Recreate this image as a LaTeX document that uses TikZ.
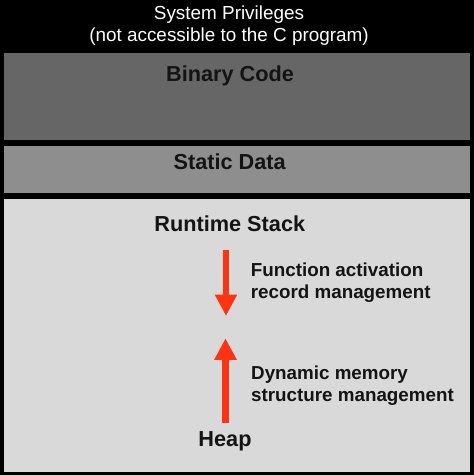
\documentclass[tikz,border=0pt]{standalone}
\usepackage{fontspec}
\setmainfont{Liberation Sans}
\usetikzlibrary{arrows.meta}
\definecolor{codegray}{HTML}{666666}
\definecolor{datagray}{HTML}{8E8E8E}
\definecolor{stackgray}{HTML}{D9D9D9}
\definecolor{inkdark}{HTML}{141414}
\definecolor{growred}{HTML}{FF3311}
\tikzset{
  title/.style={inner sep=0pt, text=inkdark, font=\fontsize{21.7}{24}\selectfont\bfseries},
  note/.style={inner sep=0pt, text=inkdark, align=left, font=\fontsize{18.8}{22}\selectfont\bfseries},
  growarrow/.style={draw=growred, line width=6.8pt, -{Triangle[length=21.5pt, width=21pt]}}
}
\begin{document}
\begin{tikzpicture}[x=1pt, y=-1pt]
    \useasboundingbox (0,0) rectangle (474,475);
    \fill[black] (0,0) rectangle (474,475);
    % the three regions
    \fill[codegray] (3.5,53) rectangle (470,140);
    \fill[datagray] (3.5,146) rectangle (470,193);
    \fill[stackgray] (3.5,199) rectangle (470,472);
    \node(priv)[inner sep=0pt, text=white, align=center, font=\fontsize{18.9}{22.5}\selectfont] at (229,25.5) {System Privileges\\(not accessible to the C program)};
    \node(code)[title, anchor=base] at (230,81) {Binary Code};
    \node(data)[title, anchor=base] at (229.7,169) {Static Data};
    \node(stack)[title, anchor=base] at (229.8,231.7) {Runtime Stack};
    \node(heap)[title, anchor=base] at (225,446) {Heap};
    \node(frames)[note, anchor=west] at (250.7,282.7) {Function activation\\record management};
    \node(dyn)[note, anchor=west] at (251,385.5) {Dynamic memory\\structure management};
    \coordinate(s1) at (226,250);
    \coordinate(s2) at (226,316);
    \coordinate(h1) at (225.5,422.7);
    \coordinate(h2) at (225.5,338.3);
    \draw[growarrow] (s1) -- (s2);
    \draw[growarrow] (h1) -- (h2);
\end{tikzpicture}
\end{document}
